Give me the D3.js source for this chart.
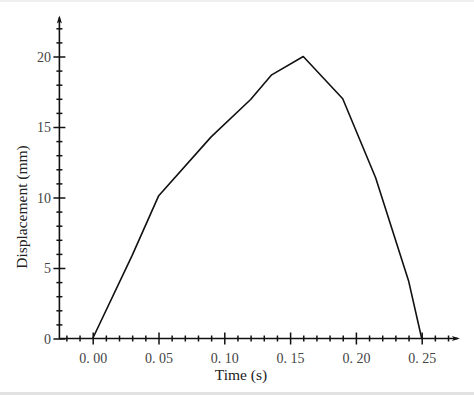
<!DOCTYPE html>
<html>
<head>
<meta charset="utf-8">
<script src="https://cdn.jsdelivr.net/npm/d3@7"></script>
<style>
  html, body { margin: 0; padding: 0; background: #fff; }
  svg { display: block; }
</style>
</head>
<body>
<script>
// ---- data ----
const times = [0, 0.03, 0.05, 0.09, 0.12, 0.136, 0.16, 0.19, 0.215, 0.24, 0.25];
const displacement = [0, 5.9, 10.1, 14.3, 16.95, 18.7, 20.0, 17.0, 11.4, 4.1, 0];
const xMajorTicks = [0, 0.05, 0.10, 0.15, 0.20, 0.25];
const xTickLabels = ["0. 00", "0. 05", "0. 10", "0. 15", "0. 20", "0. 25"];
const xMinorTicks = d3.range(-2, 28).filter(i => i % 5 !== 0 || i < 0 || i > 25).map(i => i / 100);
const yMajorTicks = [0, 5, 10, 15, 20];
const yTickLabels = ["0", "5", "10", "15", "20"];
const yMinorTicks = d3.range(1, 23).filter(v => v % 5 !== 0);
const xTitle = "Time (s)";
const yTitle = "Displacement (mm)";

const W = 474, H = 395;
const svg = d3.select("body").append("svg").attr("width", W).attr("height", H);

// faint frame lines of the original picture
svg.append("rect").attr("x", 0).attr("y", 0).attr("width", W).attr("height", 2).attr("fill", "#f0f0f0");
svg.append("rect").attr("x", 0).attr("y", 392).attr("width", W).attr("height", 3).attr("fill", "#e2e2e2");

const x = d3.scaleLinear().domain([0, 0.25]).range([92.7, 421.7]);
const y = d3.scaleLinear().domain([0, 20]).range([338.5, 56.5]);

const xStart = x(-0.0253), xEnd = x(0.279);
const yTop = y(22.9);
const y0 = y(0), x0 = xStart;

const font = "'Liberation Serif', 'Times New Roman', serif";
const ink = "#111";

// ---- X axis ----
const gx = svg.append("g").attr("transform", `translate(0,${y0})`);
gx.append("line").attr("x1", xStart).attr("x2", xEnd - 2).attr("y1", 0).attr("y2", 0)
  .attr("stroke", ink).attr("stroke-width", 1.6);
gx.append("path")
  .attr("d", `M${xEnd},0 L${xEnd - 8},-2.6 L${xEnd - 6},0 L${xEnd - 8},2.6 Z`)
  .attr("fill", ink);

const gxMinor = gx.append("g").call(d3.axisBottom(x).tickValues(xMinorTicks).tickFormat("").tickSize(3));
gxMinor.select(".domain").remove();
gxMinor.selectAll(".tick line").attr("y1", -3).attr("stroke", ink).attr("stroke-width", 1.5);

const gxMajor = gx.append("g").call(d3.axisBottom(x).tickValues(xMajorTicks)
  .tickFormat((d, i) => xTickLabels[i]).tickSize(6));
gxMajor.select(".domain").remove();
gxMajor.selectAll(".tick line").attr("y1", -6).attr("stroke", ink).attr("stroke-width", 1.5);
gxMajor.selectAll(".tick text").attr("y", 24).attr("dy", 0)
  .attr("font-family", font).attr("font-size", 14).attr("fill", "#444");

// ---- Y axis ----
const gy = svg.append("g").attr("transform", `translate(${x0},0)`);
gy.append("line").attr("x1", 0).attr("x2", 0).attr("y1", y0).attr("y2", yTop + 2)
  .attr("stroke", ink).attr("stroke-width", 1.6);
gy.append("path")
  .attr("d", `M0,${yTop} L-2.6,${yTop + 8} L0,${yTop + 6} L2.6,${yTop + 8} Z`)
  .attr("fill", ink);

const gyMinor = gy.append("g").call(d3.axisLeft(y).tickValues(yMinorTicks).tickFormat("").tickSize(3));
gyMinor.select(".domain").remove();
gyMinor.selectAll(".tick line").attr("x1", 3).attr("stroke", ink).attr("stroke-width", 1.5);

const gyMajor = gy.append("g").call(d3.axisLeft(y).tickValues(yMajorTicks)
  .tickFormat((d, i) => yTickLabels[i]).tickSize(6));
gyMajor.select(".domain").remove();
gyMajor.selectAll(".tick line").attr("x1", 6).attr("stroke", ink).attr("stroke-width", 1.5);
gyMajor.selectAll(".tick text").attr("x", -8.5).attr("dy", "0.35em")
  .attr("font-family", font).attr("font-size", 14).attr("fill", "#444");

// ---- titles ----
svg.append("text").attr("x", 241).attr("y", 380).attr("text-anchor", "middle")
  .attr("font-family", font).attr("font-size", 15.5).attr("fill", "#222").text(xTitle);
svg.append("text").attr("transform", `translate(27,207) rotate(-90)`).attr("text-anchor", "middle")
  .attr("font-family", font).attr("font-size", 15.5).attr("fill", "#222").text(yTitle);

// ---- curve ----
const pts = times.map((t, i) => [t, displacement[i]]);
svg.append("path").datum(pts)
  .attr("d", d3.line().x(d => x(d[0])).y(d => y(d[1])))
  .attr("fill", "none").attr("stroke", ink).attr("stroke-width", 1.6)
  .attr("stroke-linejoin", "round");
</script>
</body>
</html>
